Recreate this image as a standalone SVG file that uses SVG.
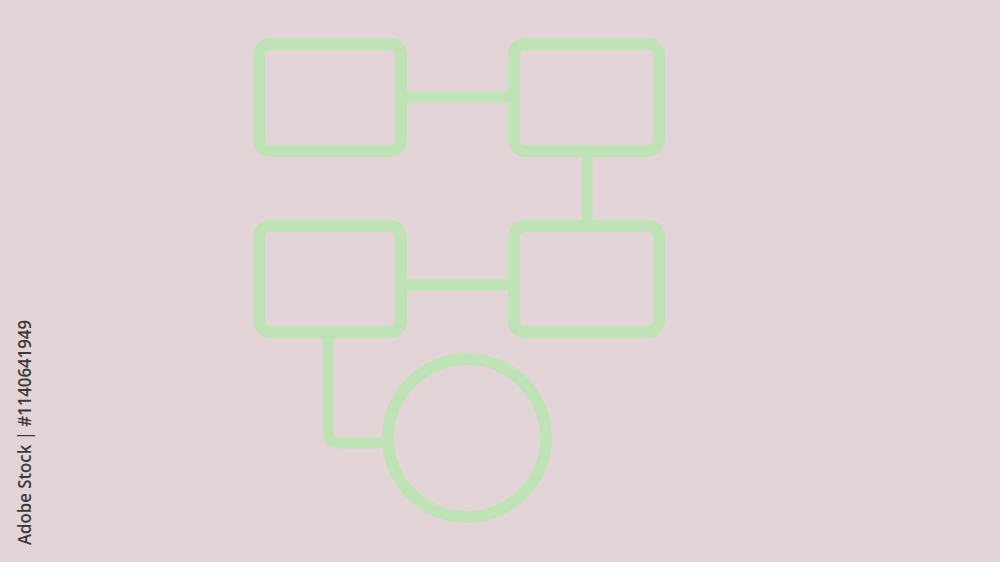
<svg xmlns="http://www.w3.org/2000/svg" width="1000" height="562" viewBox="0 0 1000 562">
<style>
.node{fill:none;stroke:#bfe3b6;stroke-width:12}
.conn{fill:none;stroke:#bfe3b6;stroke-width:11;stroke-linejoin:round}
.wm{font-family:"Open Sans","DejaVu Sans",sans-serif;font-size:18px;font-weight:600;fill:#3a3a3a}
</style>
<rect width="1000" height="562" fill="#e3d5d7"/>
<g id="connectors">
<line class="conn" x1="405" y1="97" x2="513" y2="97"/>
<line class="conn" x1="587" y1="155" x2="587" y2="224"/>
<line class="conn" x1="405" y1="285" x2="513" y2="285"/>
<path class="conn" d="M328,336 V432 Q328,443 339,443 H388"/>
</g>
<g id="node1"><rect class="node" x="259" y="44" width="142" height="107" rx="11"/></g>
<g id="node2"><rect class="node" x="514" y="44" width="145" height="107" rx="11"/></g>
<g id="node3"><rect class="node" x="259" y="226" width="142" height="106" rx="11"/></g>
<g id="node4"><rect class="node" x="514" y="226" width="145" height="106" rx="11"/></g>
<g id="node5"><circle class="node" cx="467" cy="438" r="79"/></g>
<text class="wm" transform="translate(31,545) rotate(-90)" textLength="225" lengthAdjust="spacingAndGlyphs">Adobe Stock | #1140641949</text>
</svg>
